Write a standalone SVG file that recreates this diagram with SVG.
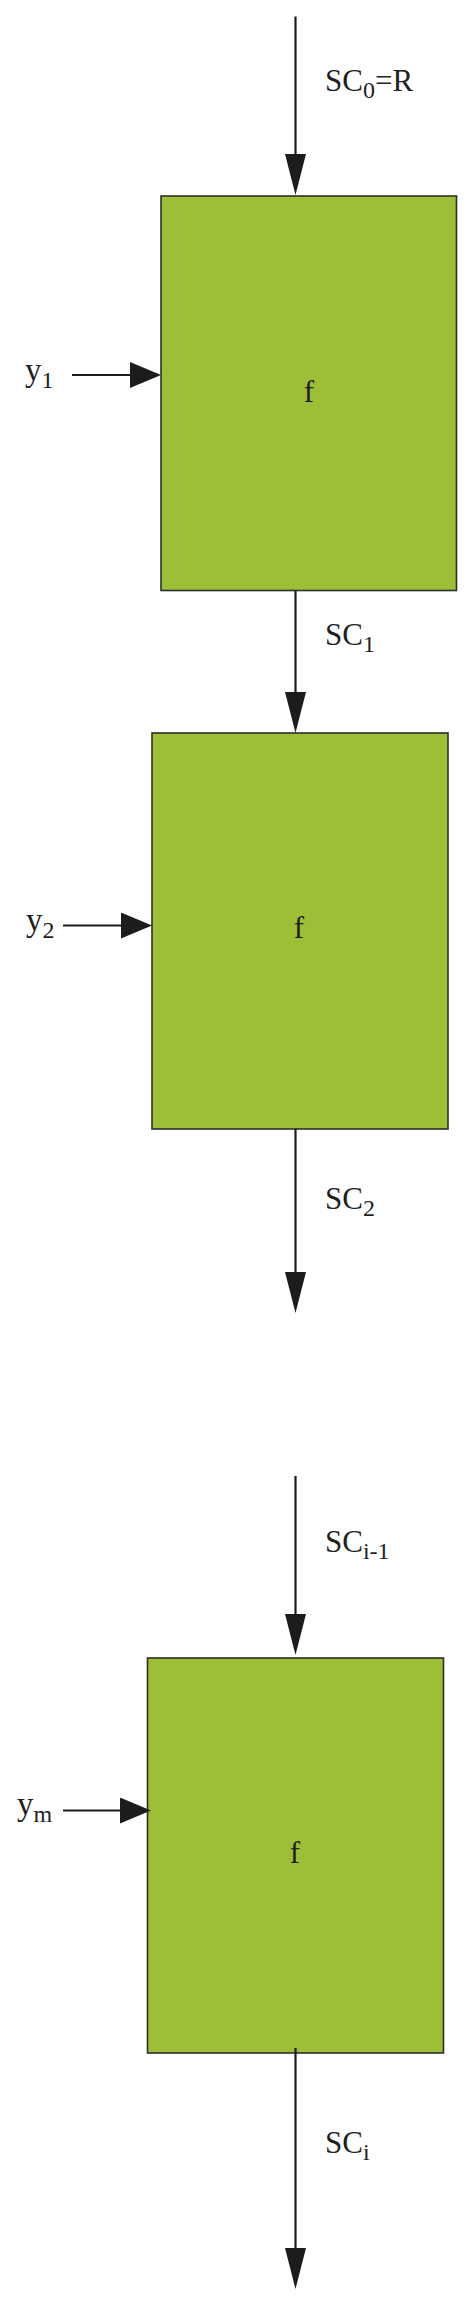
<svg xmlns="http://www.w3.org/2000/svg" width="474" height="2306" viewBox="0 0 474 2306">
<style>
.box{fill:#9dbe37;stroke:#2e2e2e;stroke-width:1.6}
.ln{stroke:#1c1c1c;stroke-width:2.2;fill:none}
.t{font-family:"Liberation Serif","Times New Roman",serif;font-size:31px;fill:#1f1f1f}
.y{font-size:33px}
.s{font-size:24px}
</style>
<defs>
<marker id="av" markerUnits="userSpaceOnUse" viewBox="0 0 41 21" markerWidth="41" markerHeight="21" refX="31" refY="10.5" orient="auto">
<path d="M0,0 L41,10.5 L0,21 Z" fill="#1c1c1c"/>
</marker>
<marker id="ah" markerUnits="userSpaceOnUse" viewBox="0 0 31 26" markerWidth="31" markerHeight="26" refX="21" refY="13" orient="auto">
<path d="M0,0 L31,13 L0,26 Z" fill="#1c1c1c"/>
</marker>
</defs>
<rect width="474" height="2306" fill="#fff"/>
<g id="node-f1">
<rect class="box" x="161" y="196" width="295.5" height="394.5"/>
<text class="t" x="309" y="402" text-anchor="middle">f</text>
</g>
<g id="node-f2">
<rect class="box" x="152" y="733" width="296" height="396"/>
<text class="t" x="299" y="938" text-anchor="middle">f</text>
</g>
<g id="node-f3">
<rect class="box" x="147.5" y="1658" width="296" height="395"/>
<text class="t" x="295" y="1863" text-anchor="middle">f</text>
</g>
<g id="connectors">
<line class="ln" x1="295.5" y1="16.5" x2="295.5" y2="185" marker-end="url(#av)"/>
<line class="ln" x1="295.5" y1="591" x2="295.5" y2="723" marker-end="url(#av)"/>
<line class="ln" x1="295.5" y1="1129" x2="295.5" y2="1303" marker-end="url(#av)"/>
<line class="ln" x1="295.5" y1="1476" x2="295.5" y2="1645" marker-end="url(#av)"/>
<line class="ln" x1="295.5" y1="2048" x2="295.5" y2="2279" marker-end="url(#av)"/>
<line class="ln" x1="72" y1="375" x2="151" y2="375" marker-end="url(#ah)"/>
<line class="ln" x1="63" y1="925.5" x2="142" y2="925.5" marker-end="url(#ah)"/>
<line class="ln" x1="63" y1="1810.5" x2="141" y2="1810.5" marker-end="url(#ah)"/>
</g>
<g id="labels">
<text class="t" x="325" y="91">SC<tspan class="s" dy="7">0</tspan><tspan dy="-7">=R</tspan></text>
<text class="t" x="325" y="645">SC<tspan class="s" dy="7">1</tspan></text>
<text class="t" x="325" y="1209">SC<tspan class="s" dy="7">2</tspan></text>
<text class="t" x="325" y="1552">SC<tspan class="s" dy="7">i-1</tspan></text>
<text class="t" x="325" y="2153">SC<tspan class="s" dy="7">i</tspan></text>
<text class="t y" x="25" y="381">y<tspan class="s" dy="7">1</tspan></text>
<text class="t y" x="26" y="930.5">y<tspan class="s" dy="7">2</tspan></text>
<text class="t y" x="17" y="1815">y<tspan class="s" dy="7">m</tspan></text>
</g>
</svg>
